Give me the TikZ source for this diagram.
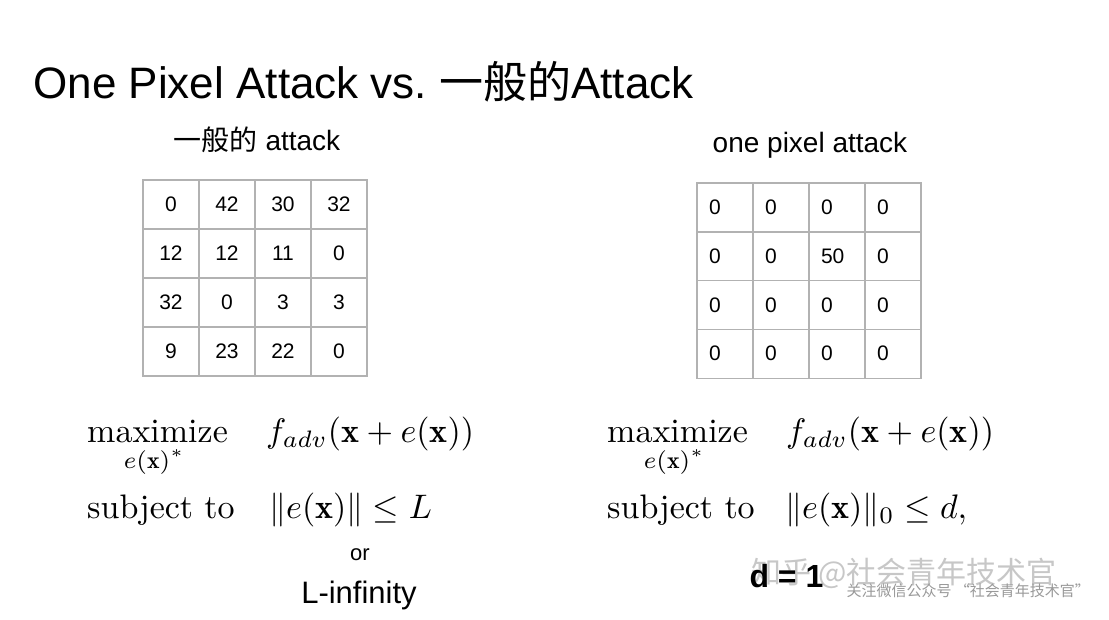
\documentclass[tikz,border=0pt]{standalone}
\usepackage{amsmath}
\usepackage{fontspec}
\newfontfamily\arialfont{Liberation Sans}
\newfontfamily\cjk{Noto Sans CJK SC}
\newcommand{\bigmath}[1]{\scalebox{3.4}{#1}}
\tikzset{
  titletext/.style={font=\arialfont\fontsize{44}{52}\selectfont,anchor=base west},
  headtext/.style={font=\arialfont\fontsize{28}{34}\selectfont},
  cellbox/.style={draw=black!30,line width=1.3pt,minimum width=56pt,minimum height=49pt,
    inner sep=0pt,anchor=center,font=\arialfont\fontsize{21}{25}\selectfont},
  cellleft/.style={cellbox,text width=32pt,inner xsep=12pt,align=left},
  mathtext/.style={anchor=base west,inner sep=0pt},
  notetext/.style={font=\arialfont\fontsize{22}{26}\selectfont},
  bigtext/.style={font=\arialfont\fontsize{31}{36}\selectfont},
  marktext/.style={font=\cjk\fontsize{30}{34}\selectfont,text=black!22,anchor=base west},
  smallmark/.style={font=\cjk\fontsize{15}{18}\selectfont,text=black!40,anchor=base west}
}
\begin{document}
\begin{tikzpicture}[x=1pt,y=-1pt,every node/.style={anchor=base}]
  \useasboundingbox[fill=white] (0,0) rectangle (1109,619);
  \node[titletext] (title) at (30,98) {One Pixel Attack vs.\hspace{12pt}{\cjk 一般的}Attack};
  \node[headtext] (headL) at (257,150) {{\cjk 一般的} attack};
  \node[headtext] (headR) at (810,152) {one pixel attack};
  % left grid
  \foreach \row [count=\r from 0] in {{0,42,30,32},{12,12,11,0},{32,0,3,3},{9,23,22,0}}{
    \foreach \v [count=\c from 0] in \row{
      \node[cellbox] (L\r\c) at (171+56*\c,204.5+49*\r) {\v};}}
  % right grid
  \foreach \row [count=\r from 0] in {{0,0,0,0},{0,0,50,0},{0,0,0,0},{0,0,0,0}}{
    \foreach \v [count=\c from 0] in \row{
      \node[cellleft] (R\r\c) at (725+56*\c,207.5+48.75*\r) {\v};}}
  % left problem
  \node[mathtext] (maxL) at (87,442) {\bigmath{maximize}};
  \node[inner sep=0pt] (argL) at (154,468) {\bigmath{$\scriptstyle e(\mathbf{x})^*$}};
  \node[mathtext] (objL) at (266,442) {\bigmath{$f_{adv}(\mathbf{x}+e(\mathbf{x}))$}};
  \node[mathtext] (subjL) at (87,518) {\bigmath{subject to}};
  \node[mathtext] (consL) at (269,518) {\bigmath{$\|e(\mathbf{x})\|\leq L$}};
  \node[notetext] (orL) at (360,560) {or};
  \node[bigtext] (linf) at (359,603) {L-infinity};
  % right problem
  \node[mathtext] (maxR) at (607,442) {\bigmath{maximize}};
  \node[inner sep=0pt] (argR) at (674,468) {\bigmath{$\scriptstyle e(\mathbf{x})^*$}};
  \node[mathtext] (objR) at (786,442) {\bigmath{$f_{adv}(\mathbf{x}+e(\mathbf{x}))$}};
  \node[mathtext] (subjR) at (607,518) {\bigmath{subject to}};
  \node[mathtext] (consR) at (785,518) {\bigmath{$\|e(\mathbf{x})\|_0\leq d,$}};
  % watermark
  \node[marktext] (mark) at (748,583) {知乎 @社会青年技术官};
  \node[smallmark] (mark2) at (843,596) {关注微信公众号 “社会青年技术官”};
  \node[font=\arialfont\bfseries\fontsize{32}{38}\selectfont,anchor=base west] (dval) at (746,587) {d = 1};
\end{tikzpicture}
\end{document}
